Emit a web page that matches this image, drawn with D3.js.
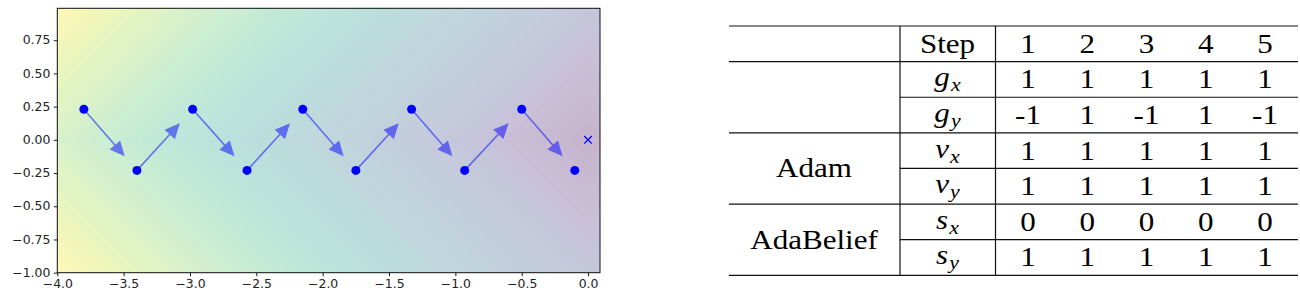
<!DOCTYPE html>
<html>
<head>
<meta charset="utf-8">
<script src="https://cdn.jsdelivr.net/npm/d3@7"></script>
<style>
  body { margin: 0; background: #fff; }
  svg { display: block; }
</style>
</head>
<body>
<div id="chart"></div>
<script>
// Trajectory points (data coords)
const stepX = [-3.8, -3.4, -2.98, -2.57, -2.15, -1.75, -1.33, -0.93, -0.5, -0.1];
const stepY = [0.23, -0.23, 0.23, -0.23, 0.23, -0.23, 0.23, -0.23, 0.23, -0.23];
const optimum = [0, 0];
const xTicks = [-4.0, -3.5, -3.0, -2.5, -2.0, -1.5, -1.0, -0.5, 0.0];
const yTicks = [-1.0, -0.75, -0.5, -0.25, 0.0, 0.25, 0.5, 0.75];

// Table contents
const stepCols = [1, 2, 3, 4, 5];
const rowNames = ["Step", "g_x", "g_y", "v_x", "v_y", "s_x", "s_y"];
const gx = [1, 1, 1, 1, 1];
const gy = [-1, 1, -1, 1, -1];
const vx = [1, 1, 1, 1, 1];
const vy = [1, 1, 1, 1, 1];
const sx = [0, 0, 0, 0, 0];
const sy = [1, 1, 1, 1, 1];
const groups = [{ name: "Adam", rows: [3, 4] }, { name: "AdaBelief", rows: [5, 6] }];

const W = 1300, H = 304;
const svg = d3.select("#chart").append("svg").attr("width", W).attr("height", H);

// ---------- left: contour plot ----------
const xDom = [-4, 0.09], yDom = [-1, 0.99];
const x = d3.scaleLinear().domain(xDom).range([57.3, 600]);
const y = d3.scaleLinear().domain(yDom).range([272.7, 8.3]);

const plot = svg.append("g");
svg.append("clipPath").attr("id", "plotclip").append("rect")
  .attr("x", x(xDom[0])).attr("y", y(yDom[1]))
  .attr("width", x(xDom[1]) - x(xDom[0])).attr("height", y(yDom[0]) - y(yDom[1]));

// f(x, y) = |x| + |y| on a grid
const nx = 220, ny = 110;
const grid = new Array(nx * ny);
for (let j = 0; j < ny; j++) {
  for (let i = 0; i < nx; i++) {
    const gxv = xDom[0] + (i + 0.5) / nx * (xDom[1] - xDom[0]);
    const gyv = yDom[0] + (j + 0.5) / ny * (yDom[1] - yDom[0]);
    grid[j * nx + i] = Math.abs(gxv) + Math.abs(gyv);
  }
}
const fMax = 5;
const levels = d3.range(0, fMax + 0.001, fMax / 40);
const bandColor = v => d3.interpolateRgb("#ffffff", d3.interpolateViridis(v / fMax))(0.3);
const proj = d3.geoTransform({
  point(px, py) {
    this.stream.point(
      x(xDom[0] + px / nx * (xDom[1] - xDom[0])),
      y(yDom[0] + py / ny * (yDom[1] - yDom[0]))
    );
  }
});
const contours = d3.contours().size([nx, ny]).thresholds(levels)(grid);

plot.append("g").attr("clip-path", "url(#plotclip)")
  .selectAll("path")
  .data(contours)
  .join("path")
  .attr("d", d3.geoPath(proj))
  .attr("fill", d => bandColor(d.value + fMax / 80))
  .attr("stroke", d => bandColor(d.value + fMax / 80))
  .attr("stroke-width", 0.3);

// arrows between consecutive points
const tipFrac = 0.77, headLen = 15, headW = 14, shaftW = 1.6;
const arrows = d3.range(stepX.length - 1).map(i => {
  const x0 = x(stepX[i]), y0 = y(stepY[i]);
  const x1 = x(stepX[i] + tipFrac * (stepX[i + 1] - stepX[i]));
  const y1 = y(stepY[i] + tipFrac * (stepY[i + 1] - stepY[i]));
  const dx = x1 - x0, dy = y1 - y0, L = Math.hypot(dx, dy);
  const ux = dx / L, uy = dy / L, nxv = -uy, nyv = ux;
  const bx = x1 - ux * headLen, by = y1 - uy * headLen;
  return [
    [x0 + nxv * shaftW / 2, y0 + nyv * shaftW / 2],
    [bx + nxv * shaftW / 2, by + nyv * shaftW / 2],
    [bx + nxv * headW / 2, by + nyv * headW / 2],
    [x1, y1],
    [bx - nxv * headW / 2, by - nyv * headW / 2],
    [bx - nxv * shaftW / 2, by - nyv * shaftW / 2],
    [x0 - nxv * shaftW / 2, y0 - nyv * shaftW / 2]
  ];
});
plot.append("g").selectAll("path")
  .data(arrows)
  .join("path")
  .attr("d", d => "M" + d.join("L") + "Z")
  .attr("fill", "#0000ff")
  .attr("fill-opacity", 0.5);

// points
plot.append("g").selectAll("circle")
  .data(stepX.map((v, i) => [v, stepY[i]]))
  .join("circle")
  .attr("cx", d => x(d[0]))
  .attr("cy", d => y(d[1]))
  .attr("r", 4.5)
  .attr("fill", "#0000ff");

// optimum marker
const ox = x(optimum[0]), oy = y(optimum[1]), ms = 3.8;
plot.append("path")
  .attr("d", `M${ox - ms},${oy - ms}L${ox + ms},${oy + ms}M${ox - ms},${oy + ms}L${ox + ms},${oy - ms}`)
  .attr("stroke", "#0000ff")
  .attr("stroke-width", 1.3)
  .attr("fill", "none");

// axes
const minus = s => s.replace("-", "\u2212");
const xAxis = d3.axisBottom(x).tickValues(xTicks).tickSize(3.5).tickPadding(3.5)
  .tickFormat(d => minus(d3.format(".1f")(d)));
const yAxis = d3.axisLeft(y).tickValues(yTicks).tickSize(3.5).tickPadding(3.5)
  .tickFormat(d => minus(d3.format(".2f")(d)));

const gX = svg.append("g").attr("transform", `translate(0,${y(yDom[0])})`).call(xAxis);
const gY = svg.append("g").attr("transform", `translate(${x(xDom[0])},0)`).call(yAxis);
[gX, gY].forEach(g => {
  g.attr("font-family", null).attr("font-size", null);
  g.select(".domain").remove();
  g.selectAll("line").attr("stroke", "#000").attr("stroke-width", 0.9);
  g.selectAll("text")
    .attr("fill", "#222")
    .style("font-family", '"DejaVu Sans", sans-serif')
    .style("font-size", "11.5px");
});
gX.selectAll(".tick text").attr("transform", "scale(1.08,1)");
gY.selectAll(".tick text").each(function () {
  const t = d3.select(this);
  const xx = +t.attr("x");
  t.attr("x", null).attr("transform", `translate(${xx},0) scale(1.08,1)`);
});

svg.append("rect")
  .attr("x", x(xDom[0])).attr("y", y(yDom[1]))
  .attr("width", x(xDom[1]) - x(xDom[0])).attr("height", y(yDom[0]) - y(yDom[1]))
  .attr("fill", "none").attr("stroke", "#111").attr("stroke-width", 1);

// ---------- right: table ----------
const tbl = svg.append("g");
const rowY = d3.scaleBand().domain(d3.range(rowNames.length)).range([26, 275.3]);
const colX = d3.scalePoint().domain(stepCols).range([1028, 1265]);
const tLeft = 729, tRight = 1298, vLine1 = 900, vLine2 = 995.5, stepCx = 947.5;
const fullRules = [0, 1, 3, 5, 7];
const partRules = [2, 4, 6];
const ruleY = i => i < rowNames.length ? rowY(i) : rowY(rowNames.length - 1) + rowY.bandwidth();
const lineStyle = s => s.attr("stroke", "#111").attr("stroke-width", 1.2);

tbl.selectAll(".full").data(fullRules).join("line")
  .attr("x1", tLeft).attr("x2", tRight)
  .attr("y1", ruleY).attr("y2", ruleY).call(lineStyle);
tbl.selectAll(".part").data(partRules).join("line")
  .attr("x1", vLine1).attr("x2", tRight)
  .attr("y1", ruleY).attr("y2", ruleY).call(lineStyle);
tbl.selectAll(".vert").data([vLine1, vLine2]).join("line")
  .attr("x1", d => d).attr("x2", d => d)
  .attr("y1", ruleY(0)).attr("y2", ruleY(7)).call(lineStyle);

const fs = 27, sx_ = 1.15;
const serifFam = '"Liberation Serif", "Times New Roman", serif';
const baseY = i => rowY(i) + rowY.bandwidth() / 2 + 9;
function putText(g, tx, ty, str) {
  return g.append("text")
    .attr("transform", `translate(${tx},${ty}) scale(${sx_},1)`)
    .attr("text-anchor", "middle")
    .style("font-family", serifFam)
    .style("font-size", fs + "px")
    .attr("fill", "#000")
    .text(str);
}

// header
putText(tbl, stepCx, baseY(0), "Step");
stepCols.forEach(c => putText(tbl, colX(c), baseY(0), String(c)));

// row labels with subscripts
rowNames.slice(1).forEach((name, k) => {
  const i = k + 1;
  const [base, sub] = name.split("_");
  const t = tbl.append("text")
    .attr("transform", `translate(${stepCx},${baseY(i) - 2}) scale(${sx_},1)`)
    .attr("text-anchor", "middle")
    .style("font-family", serifFam)
    .style("font-size", fs + "px")
    .style("font-style", "italic")
    .attr("fill", "#000");
  t.append("tspan").text(base);
  t.append("tspan").attr("dx", 1).attr("dy", 5).style("font-size", "19px").text(sub);
});

// values
const values = [gx, gy, vx, vy, sx, sy];
values.forEach((arr, k) => {
  arr.forEach((v, c) => putText(tbl, colX(stepCols[c]), baseY(k + 1), v < 0 ? "-" + Math.abs(v) : String(v)));
});

// group labels
groups.forEach(g => {
  const cy = (rowY(g.rows[0]) + rowY(g.rows[1]) + rowY.bandwidth()) / 2;
  putText(tbl, 814, cy + 9, g.name);
});
</script>
</body>
</html>
